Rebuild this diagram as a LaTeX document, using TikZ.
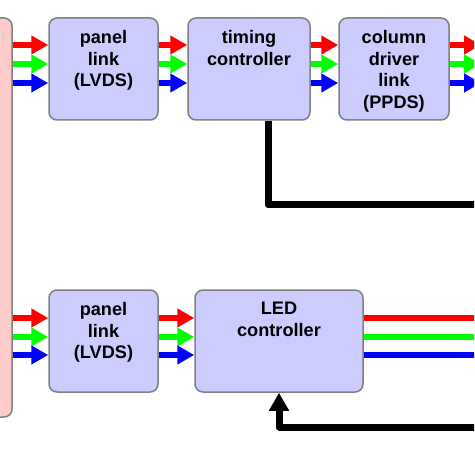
\documentclass[tikz,border=0pt]{standalone}
\usepackage{fontspec}
\setmainfont{Liberation Sans}
\usepackage{tikz}
\usetikzlibrary{calc, arrows.meta, positioning, fit}
\definecolor{boxfill}{RGB}{204,204,255}
\definecolor{boxline}{RGB}{128,128,128}
\definecolor{srcfill}{RGB}{255,204,204}

\tikzset{
  blk/.style={draw=boxline, fill=boxfill, line width=0.45mm, rounded corners=2.4mm, inner sep=0pt},
  srcbar/.style={draw=boxline, fill=srcfill, line width=0.45mm, rounded corners=2.4mm, inner sep=0pt},
  lbl/.style={font=\bfseries\fontsize{15.5}{18.4}\selectfont, align=center, inner sep=0pt, anchor=north},
  rgbarrow/.style={line width=2mm, -{Triangle[length=5.1mm,width=5.4mm]}},
  rgbline/.style={line width=2mm},
  ctrl/.style={line width=2.1mm, line join=round},
}

\begin{document}
\begin{tikzpicture}[x=0.3mm,y=-0.3mm]
        \clip (0,0) rectangle (474,474);

        % source bar
        \node[srcbar, fit={(-20,18) (12,417)}] (src) {};

        % top row
        \node[blk, fit={(49,18) (158,120)}] (plA) {};
        \node[lbl] (plAtxt) at ($(plA.north)+(0,13)$) {panel\\link\\(LVDS)};

        \node[blk, fit={(188,18) (310,120)}] (tcon) {};
        \node[lbl] (tcontxt) at ($(tcon.north)+(0,13)$) {timing\\controller};

        \node[blk, fit={(339,18) (449,120)}] (cdl) {};
        \node[lbl] (cdltxt) at ($(cdl.north)+(0,13)$) {column\\driver\\link\\(PPDS)};

        \coordinate (outA) at (481,69);

        \foreach \c/\y in {red/45, green/64, blue/83}{
            \path (0,\y) coordinate (row);
            \draw[rgbarrow,\c] (src.east |- row) -- (plA.west |- row);
            \draw[rgbarrow,\c] (plA.east |- row) -- (tcon.west |- row);
            \draw[rgbarrow,\c] (tcon.east |- row) -- (cdl.west |- row);
            \draw[rgbarrow,\c] (cdl.east |- row) -- (outA |- row);
        }

        % bottom row
        \node[blk, fit={(49,290) (158,392)}] (plB) {};
        \node[lbl] (plBtxt) at ($(plB.north)+(0,13)$) {panel\\link\\(LVDS)};

        \node[blk, fit={(195,290) (363,392)}] (ledc) {};
        \node[lbl] (ledctxt) at ($(ledc.north)+(0,13)$) {LED\\controller};

        \coordinate (outB) at (495,337);

        \foreach \c/\y in {red/318, green/337, blue/355}{
            \path (0,\y) coordinate (row);
            \draw[rgbarrow,\c] (src.east |- row) -- (plB.west |- row);
            \draw[rgbarrow,\c] (plB.east |- row) -- (ledc.west |- row);
            \draw[rgbline,\c] (ledc.east |- row) -- (outB |- row);
        }

        % feedback lines
        \coordinate (fbA) at (268,205);
        \coordinate (fbAend) at (495,205);
        \draw[ctrl] (tcon.south -| fbA) -- (fbA) -- (fbAend);

        \coordinate (fbB) at (279,427);
        \coordinate (fbBend) at (495,427);
        \draw[ctrl, -{Triangle[length=5.4mm,width=5.7mm]}] (fbBend) -- (fbB) -- (ledc.south -| fbB);
\end{tikzpicture}
\end{document}
